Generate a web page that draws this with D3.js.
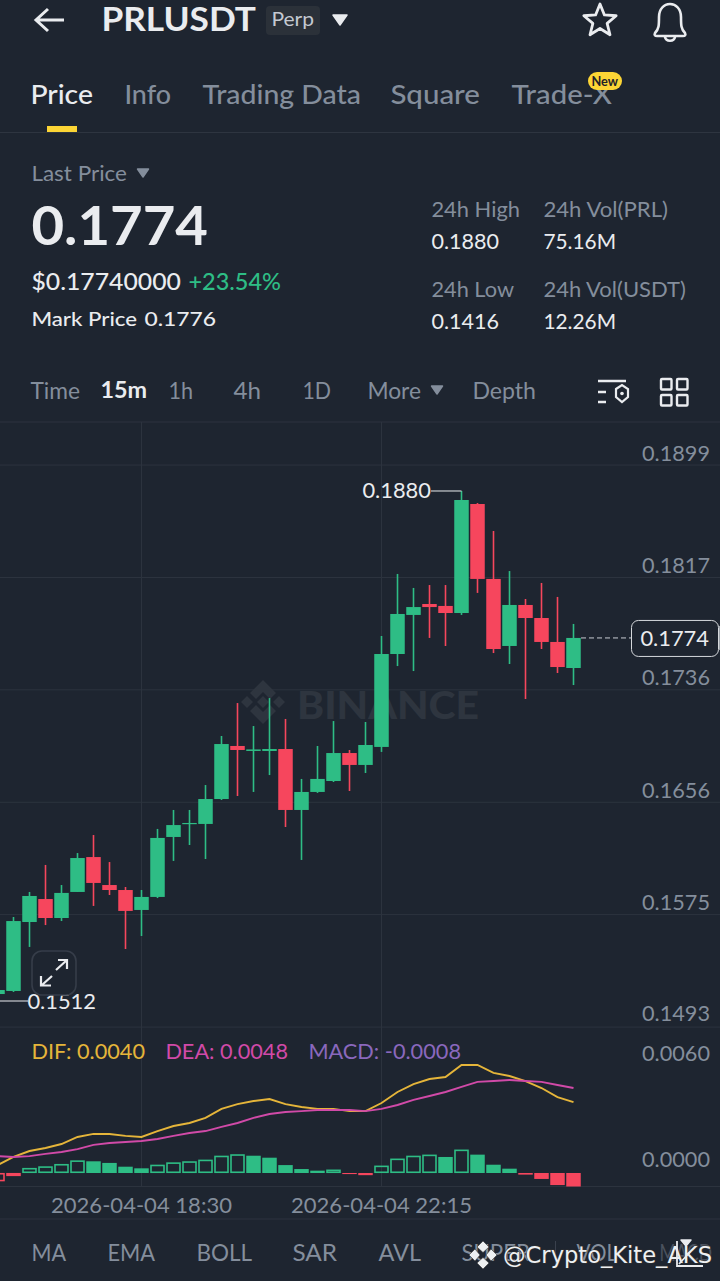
<!DOCTYPE html>
<html><head><meta charset="utf-8">
<script src="https://cdn.jsdelivr.net/npm/d3@7"></script>
<style>html,body{margin:0;padding:0;background:#1e2530;overflow:hidden}svg{display:block}text{font-family:Lato,"Open Sans",sans-serif}</style>
</head><body><svg id="c" width="720" height="1281"></svg>
<script>
const times=["16:15","16:30","16:45","17:00","17:15","17:30","17:45","18:00","18:15","18:30","18:45","19:00","19:15","19:30","19:45","20:00","20:15","20:30","20:45","21:00","21:15","21:30","21:45","22:00","22:15","22:30","22:45","23:00","23:15","23:30","23:45","00:00","00:15","00:30","00:45","01:00","01:15"];
const open=[.15159,.15181,.15679,.15845,.15708,.15896,.16148,.15946,.15910,.15766,.15860,.16293,.16387,.16387,.16567,.16950,.16914,.16914,.16928,.16488,.16618,.16697,.16899,.16813,.16943,.17614,.17896,.17975,.17961,.17910,.18697,.18156,.17672,.17968,.17874,.17701,.17513];
const high=[.15203,.15715,.15896,.16091,.15946,.16177,.16307,.16112,.15932,.15910,.16351,.16488,.16488,.16668,.17022,.17260,.17094,.17296,.17145,.16712,.16950,.17130,.16921,.17123,.17744,.18192,.18091,.18112,.18112,.18791,.18704,.18502,.18213,.18011,.18127,.18026,.17831];
const low=[.15109,.15174,.15499,.15657,.15686,.15896,.15795,.15874,.15484,.15578,.15852,.16120,.16235,.16134,.16560,.16589,.16618,.16740,.16365,.16127,.16611,.16690,.16625,.16755,.16907,.17527,.17491,.17730,.17672,.17896,.18055,.17621,.17542,.17289,.17650,.17477,.17390];
const close=[.15188,.15686,.15867,.15708,.15889,.16141,.15961,.15910,.15759,.15860,.16286,.16379,.16394,.16567,.16964,.16921,.16925,.16928,.16488,.16618,.16712,.16899,.16813,.16957,.17614,.17903,.17953,.17953,.17910,.18726,.18156,.17650,.17968,.17874,.17701,.17520,.17730];
const dif=[.00044,.00089,.00122,.00139,.00161,.00200,.00217,.00217,.00206,.00200,.00233,.00261,.00278,.00306,.00356,.00383,.00400,.00411,.00383,.00367,.00356,.00356,.00344,.00344,.00389,.00450,.00494,.00522,.00533,.00600,.00600,.00556,.00539,.00511,.00472,.00422,.00394];
const dea=[.00094,.00089,.00094,.00106,.00117,.00133,.00156,.00167,.00172,.00178,.00189,.00206,.00222,.00233,.00256,.00278,.00306,.00328,.00339,.00344,.00350,.00350,.00350,.00344,.00356,.00378,.00406,.00428,.00450,.00478,.00506,.00511,.00517,.00511,.00506,.00489,.00472];
const hist=[-.00046,-.00017,.00028,.00037,.00050,.00070,.00065,.00056,.00035,.00026,.00046,.00059,.00065,.00074,.00096,.00104,.00096,.00085,.00044,.00022,.00013,.00019,-.00006,-.00012,.00041,.00080,.00096,.00102,.00089,.00130,.00102,.00046,.00024,-.00009,-.00033,-.00067,-.00075];
const priceTicks=[.18982,.18170,.17359,.16547,.15736,.14924];
const priceLabels=["0.1899","0.1817","0.1736","0.1656","0.1575","0.1493"];
const macdTicks=[.0060,.0000];
const timeTicks=["18:30","22:15"];
const timeLabels=["2026-04-04 18:30","2026-04-04 22:15"];
const bottomTabs=[["MA",32,66],["EMA",108,155],["BOLL",197,252],["SAR",293,337],["AVL",379,421]];

const BG="#1e2530",GRID="#2c333e",GREEN="#2ebd85",RED="#f6465d",GRAY="#848e9c",WHITE="#eaecef",YEL="#fcd535";
const svg=d3.select("#c");
svg.append("rect").attr("width",720).attr("height",1281).attr("fill",BG);
function t(s,x0,x1,cy,size,fill,weight){
  const n=svg.append("text").text(s).attr("x",x0-.6).attr("y",cy-1.5).attr("dominant-baseline","central")
   .attr("font-size",size).attr("fill",fill).attr("font-weight",weight||400);
  if(x1!=null) n.attr("textLength",x1-x0+.6).attr("lengthAdjust","spacingAndGlyphs");
  return n;
}
function tri(cx,cy,w,h,fill){svg.append("path").attr("d",`M${cx-w/2},${cy-h/2}H${cx+w/2}L${cx},${cy+h/2}Z`).attr("fill",fill).attr("stroke",fill).attr("stroke-width",1.5).attr("stroke-linejoin","round");}

// header
svg.append("path").attr("d","M64,20H37M48,9L36,20L48,31").attr("fill","none").attr("stroke",WHITE).attr("stroke-width",3);
t("PRLUSDT",102,256,20,32,WHITE,700);
svg.append("rect").attr("x",266).attr("y",6).attr("width",54).attr("height",29).attr("rx",4).attr("fill","#2b3139");
t("Perp",272,314,20,19,"#c4c9d1",400);
tri(340,20,14,10,WHITE);
const star=d3.range(10).map(i=>{const r=i%2?7.5:17,a=-Math.PI/2+i*Math.PI/5;return [600+r*Math.cos(a),21+r*Math.sin(a)];});
svg.append("path").attr("d","M"+star.join("L")+"Z").attr("fill","none").attr("stroke",WHITE).attr("stroke-width",2.8).attr("stroke-linejoin","round");
svg.append("path").attr("d","M655,33C659,29 659,25 659,17C659,9 664,4 670,4C676,4 681,9 681,17C681,25 681,29 685,33C686,35 685,36 683,36H657C655,36 654,35 655,33ZM665,37C666,42 674,42 675,37").attr("fill","none").attr("stroke",WHITE).attr("stroke-width",2.6);

// tabs
t("Price",31,93,95,27,WHITE,500);
[["Info",125,171],["Trading Data",203,361],["Square",391,480],["Trade-X",512,612]].forEach(d=>t(d[0],d[1],d[2],95,27,GRAY,500));
svg.append("rect").attr("x",588).attr("y",72).attr("width",34).attr("height",18).attr("rx",9).attr("fill",YEL);
t("New",592,618,82,13,"#1e2329",700);
svg.append("rect").attr("x",47).attr("y",126).attr("width",30).attr("height",6).attr("fill",YEL);
svg.append("rect").attr("x",0).attr("y",132).attr("width",720).attr("height",1).attr("fill","#2e3540");

// stats
t("Last Price",32,127,174,21,GRAY);
tri(143,173,11,8,GRAY);
t("0.1774",32,208,226,54,WHITE,700);
t("$0.17740000",32,181,282,23,WHITE,500);
t("+23.54%",189,281,282,23,GREEN,500);
t("Mark Price",32,137,319,20,WHITE,500);
t("0.1776",145,216,319,20,WHITE,500);
t("24h High",432,520,210,21,GRAY);t("0.1880",432,499,242,21,WHITE);
t("24h Low",432,514,290,21,GRAY);t("0.1416",432,499,322,21,WHITE);
t("24h Vol(PRL)",544,668,210,21,GRAY);t("75.16M",544,616,242,21,WHITE);
t("24h Vol(USDT)",544,686,290,21,GRAY);t("12.26M",544,616,322,21,WHITE);

// interval bar
[["Time",31,80],["1h",169,193],["4h",234,261],["1D",303,331],["More",368,421],["Depth",473,536]].forEach(d=>t(d[0],d[1],d[2],392,22.5,GRAY,400));
t("15m",101,147,391,22.5,WHITE,700);
tri(437,390,11,8,GRAY);
svg.append("path").attr("d","M598,381H626M598,392H606M598,402H606").attr("stroke",WHITE).attr("stroke-width",2.4).attr("fill","none");
svg.append("path").attr("d","M616,389L622,385L628,389V397L622,402L616,397Z").attr("stroke",WHITE).attr("stroke-width",2.2).attr("fill","none");
svg.append("circle").attr("cx",622).attr("cy",393.5).attr("r",1.8).attr("fill",WHITE);
[[661,379],[677,379],[661,395],[677,395]].forEach(p=>svg.append("rect").attr("x",p[0]).attr("y",p[1]).attr("width",10.5).attr("height",10.5).attr("rx",1).attr("fill","none").attr("stroke",WHITE).attr("stroke-width",2.4));

// scales
const x=d3.scaleBand().domain(times).range([-10.5,581.5]);
const cx=d=>x(d)+x.bandwidth()/2;
const y=d3.scaleLinear().domain([.1817,.1493]).range([577,1025.75]);
const ym=d3.scaleLinear().domain([0,.006]).range([1173,1065]);

// frame lines
[422,1219].forEach(v=>svg.append("rect").attr("x",0).attr("y",v-.5).attr("width",720).attr("height",1).attr("fill",GRID));

// grid + axes
const gy=svg.append("g").call(d3.axisRight(y).tickValues(priceTicks).tickSize(720).tickFormat((d,i)=>priceLabels[i]));
gy.select(".domain").remove();
gy.selectAll("line").attr("stroke",GRID);
gy.selectAll("text").attr("x",710).attr("dy",0).attr("y",(d,i)=>i===5?-15:-13).attr("dominant-baseline","central").attr("text-anchor","end").attr("font-size",21).attr("fill",GRAY).attr("textLength",68).attr("lengthAdjust","spacingAndGlyphs").style("font-family","Lato");
const gm=svg.append("g").call(d3.axisRight(ym).tickValues(macdTicks).tickSize(0).tickFormat(d3.format(".4f")));
gm.select(".domain").remove();
gm.selectAll("text").attr("x",710).attr("dy",0).attr("y",(d,i)=>i===1?-15.5:-13).attr("dominant-baseline","central").attr("text-anchor","end").attr("font-size",21).attr("fill",GRAY).attr("textLength",68).attr("lengthAdjust","spacingAndGlyphs").style("font-family","Lato");
svg.append("rect").attr("x",0).attr("y",1186).attr("width",720).attr("height",1).attr("fill",GRID);
const gx=svg.append("g").attr("transform","translate(0,422)").call(d3.axisBottom(x).tickValues(timeTicks).tickSize(765).tickFormat((d,i)=>timeLabels[i]));
gx.select(".domain").remove();
gx.selectAll("line").attr("stroke",GRID);
gx.selectAll("text").attr("y",782.5).attr("dy",0).attr("dominant-baseline","central").attr("font-size",21).attr("fill",GRAY).attr("textLength",181).attr("lengthAdjust","spacingAndGlyphs").style("font-family","Lato");

// watermark
const wm="#2e353f";
svg.append("text").text("BINANCE").attr("x",297).attr("y",704).attr("dominant-baseline","central").attr("font-size",38).attr("font-weight",900).attr("fill",wm).attr("textLength",182).attr("lengthAdjust","spacingAndGlyphs");
svg.append("path").attr("d","M263,680L276,693L270,699L263,692L256,699L250,693ZM247,696L253,702L247,708L241,702ZM279,696L285,702L279,708L273,702ZM263,696L269,702L263,708L257,702ZM250,711L256,705L263,712L270,705L276,711L263,724Z").attr("fill",wm);

// candles
const C=times.map((d,i)=>({t:d,o:open[i],h:high[i],l:low[i],c:close[i]}));
const col=d=>d.c>=d.o?GREEN:RED;
const g=svg.append("g");
g.selectAll("line").data(C).join("line").attr("x1",d=>cx(d.t)).attr("x2",d=>cx(d.t)).attr("y1",d=>y(d.h)).attr("y2",d=>y(d.l)).attr("stroke",col).attr("stroke-width",1.6);
g.selectAll("rect").data(C).join("rect").attr("x",d=>cx(d.t)-7.25).attr("width",14.5).attr("y",d=>y(Math.max(d.o,d.c))).attr("height",d=>Math.max(1.2,Math.abs(y(d.o)-y(d.c)))).attr("fill",col);

// high/low markers
const iHi=d3.maxIndex(high);
svg.append("line").attr("x1",431).attr("x2",cx(times[iHi])).attr("y1",y(high[iHi])).attr("y2",y(high[iHi])).attr("stroke",WHITE);
t("0.1880",363,431,491,21,WHITE);

// low marker, then expand button on top of it
svg.append("line").attr("x1",0).attr("x2",28).attr("y1",1001).attr("y2",1001).attr("stroke",WHITE);
t("0.1512",28,96,1002,21,WHITE);
svg.append("rect").attr("x",32).attr("y",951).attr("width",44).attr("height",44).attr("rx",10).attr("fill",BG).attr("stroke","#363d49").attr("stroke-width",1.6);
svg.append("path").attr("d","M56,970L67,960M58,960H67V969M52,976L42,985M41,976V985.5H51").attr("fill","none").attr("stroke",WHITE).attr("stroke-width",2.2);

// current price
const yLast=y(close[close.length-1]);
svg.append("line").attr("x1",581).attr("x2",631).attr("y1",yLast).attr("y2",yLast).attr("stroke","#c8ccd2").attr("stroke-dasharray","5 3");
svg.append("rect").attr("x",631.5).attr("y",yLast-17.5).attr("width",87).attr("height",36).attr("rx",7).attr("fill",BG).attr("stroke","#d5d8dc").attr("stroke-width",1);
svg.append("rect").attr("x",719).attr("y",yLast-12).attr("width",1).attr("height",24).attr("fill","#9aa0a8");
t("0.1774",641,709,yLast+1,21,WHITE);

// MACD
t("DIF: 0.0040",32,145,1052,20.5,"#e5b53a");
t("DEA: 0.0048",166,288,1052,20.5,"#d14aa8");
t("MACD: -0.0008",309,461,1052,20.5,"#8a68bd");
svg.append("clipPath").attr("id","mc").append("rect").attr("x",0).attr("y",1030).attr("width",720).attr("height",157);
const mg=svg.append("g").attr("clip-path","url(#mc)");
mg.selectAll("rect").data(hist).join("rect").each(function(d,i){
  const hollow=i===0||d>hist[i-1], c=d>=0?GREEN:RED, y0=ym(Math.max(d,0)), h=Math.abs(ym(d)-ym(0)), xx=cx(times[i])-7.25;
  d3.select(this).attr("x",hollow?xx+.75:xx).attr("width",hollow?13:14.5).attr("y",hollow?y0+.75:y0).attr("height",Math.max(hollow?h-1.5:h,1))
   .attr("fill",hollow?"none":c).attr("stroke",hollow?c:"none").attr("stroke-width",1.6);
});
const ln=d3.line().x((d,i)=>cx(times[i])).y(d=>ym(d));
mg.append("path").attr("d",ln(dif)).attr("fill","none").attr("stroke","#e5b53a").attr("stroke-width",1.9);
mg.append("path").attr("d",ln(dea)).attr("fill","none").attr("stroke","#d14aa8").attr("stroke-width",1.9);

// bottom bar
bottomTabs.forEach(d=>t(d[0],d[1],d[2],1254,22.5,GRAY,400));
t("SUPER",462,530,1254,22.5,GRAY,400);
t("VOL",577,617,1254,22.5,GRAY,400);
t("MACD",660,712,1254,22.5,"#4b525e",400);
svg.append("rect").attr("x",555).attr("y",1241).attr("width",1).attr("height",26).attr("fill","#3a414d");
// overlay stamp
const wmf="#eef0f2";
const logo=svg.append("g").attr("transform","translate(483,1255)");
logo.append("path").attr("d","M0,-14L6,-8L0,-2.5L-6,-8ZM-14,0L-8,-6L-3,0L-8,6ZM14,0L8,-6L3,0L8,6ZM0,14L6,8L0,2.5L-6,8Z").attr("fill",wmf).attr("stroke","#333").attr("stroke-width",.6);
svg.append("text").text("@Crypto_Kite_AKS").attr("x",503).attr("y",1255).attr("dominant-baseline","central").attr("font-size",23).attr("fill",wmf).attr("textLength",209).attr("lengthAdjust","spacingAndGlyphs").style("font-family","DejaVu Sans").style("paint-order","stroke").attr("stroke","#333").attr("stroke-width",1.2);
svg.append("path").attr("d","M677,1241V1266H703M679,1264L690,1252").attr("fill","none").attr("stroke",WHITE).attr("stroke-width",1.8);
tri(686,1243,10,6,WHITE);
</script></body></html>
